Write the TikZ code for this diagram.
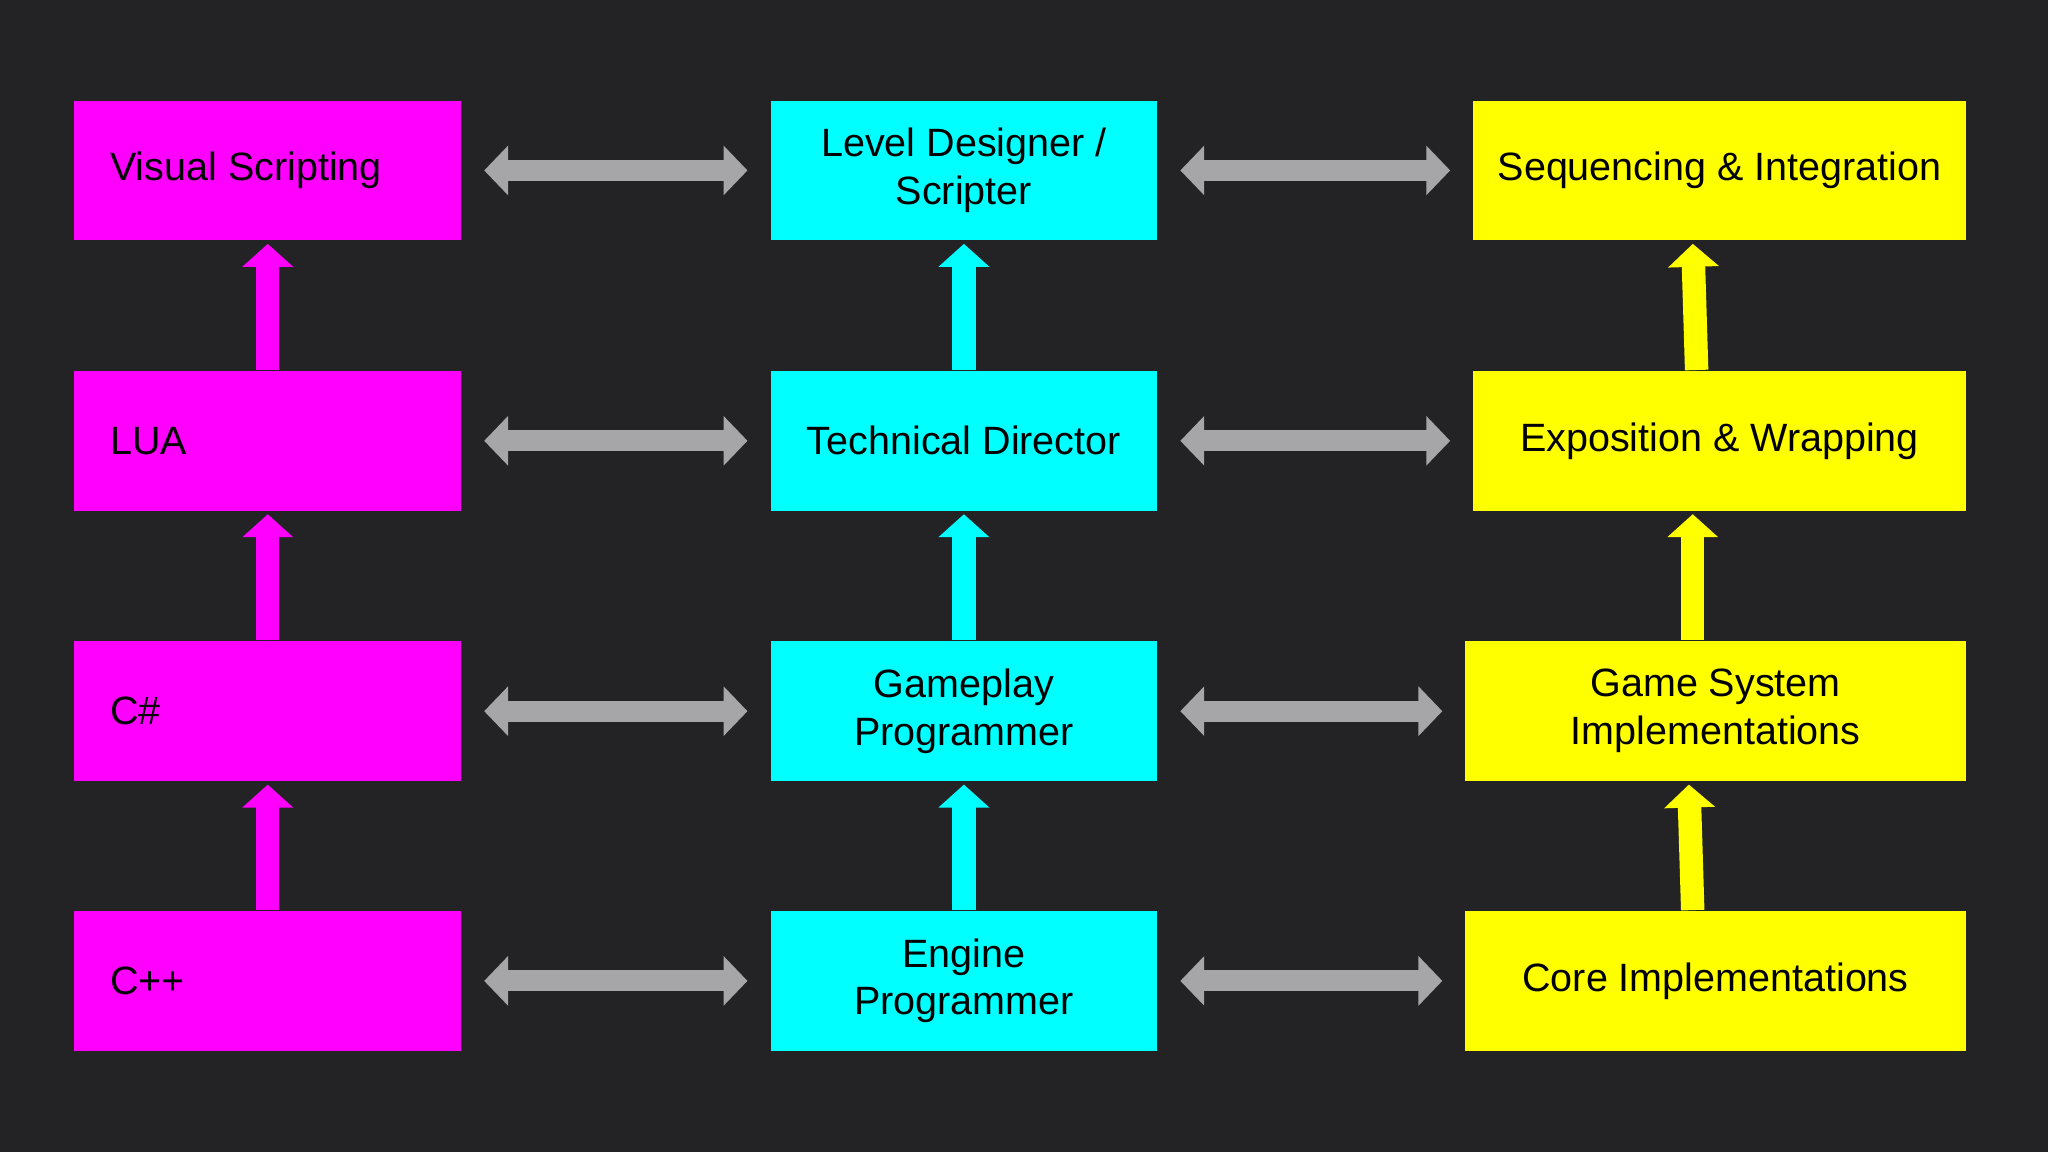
\documentclass[tikz,border=0pt]{standalone}
\usepackage{fontspec}
\setmainfont{Liberation Sans}
\usetikzlibrary{arrows.meta}
\definecolor{bg}{RGB}{35,35,37}
\definecolor{mag}{RGB}{255,0,255}
\definecolor{cya}{RGB}{0,255,255}
\definecolor{yel}{RGB}{255,255,0}
\definecolor{gry}{RGB}{166,166,168}
\begin{document}
\begin{tikzpicture}[x=0.01cm,y=-0.01cm,
  box/.style={draw=none,minimum height=107*0.01cm,inner sep=0pt,font=\fontsize{8.6pt}{10.4pt}\selectfont,align=center,text=black},
  hz/.style={gry,line width=4.6pt,{Triangle[length=5.2pt,width=10.5pt]}-{Triangle[length=5.2pt,width=10.5pt]},shorten <=17*0.01cm,shorten >=17*0.01cm},
  vt/.style={line width=5.1pt,-{Triangle[length=5pt,width=10.8pt]},shorten >=2*0.01cm}]
\fill[bg] (0,0) rectangle (1568,882);
\useasboundingbox (0,0) rectangle (1568,882);
\foreach \n/\y/\t in {1/130.5/Visual Scripting,2/337.5/LUA,3/544.5/C\#,4/751/C++}{
  \node[box,fill=mag,minimum width=296*0.01cm] (m\n) at (205,\y) {};
  \node[anchor=west,font=\fontsize{8.6pt}{10.4pt}\selectfont] at (72,\y) {\t};
}
\node[box,fill=cya,minimum width=296*0.01cm] (c1) at (738,130.5) {Level Designer /\\Scripter};
\node[box,fill=cya,minimum width=296*0.01cm] (c2) at (738,337.5) {Technical Director};
\node[box,fill=cya,minimum width=296*0.01cm] (c3) at (738,544.5) {Gameplay\\Programmer};
\node[box,fill=cya,minimum width=296*0.01cm] (c4) at (738,751) {Engine\\Programmer};
\node[box,fill=yel,minimum width=377*0.01cm] (y1) at (1316.5,130.5) {Sequencing \& Integration};
\node[box,fill=yel,minimum width=377*0.01cm] (y2) at (1316.5,337.5) {Exposition \& Wrapping};
\node[box,fill=yel,minimum width=383*0.01cm] (y3) at (1313.5,544.5) {Game System\\Implementations};
\node[box,fill=yel,minimum width=383*0.01cm] (y4) at (1313.5,751) {Core Implementations};
\foreach \i in {1,2,3,4}{
  \draw[hz] (m\i.east) -- (c\i.west);
  \draw[hz] (c\i.east) -- (y\i.west);
}
\foreach \a/\b in {2/1,3/2,4/3}{
  \draw[vt,mag] (m\a.north) -- (m\b.south);
  \draw[vt,cya] (c\a.north) -- (c\b.south);
  \draw[vt,yel] ([xshift=-17.5*0.01cm]y\a.north) -- ([xshift=-20.5*0.01cm]y\b.south) ;
}
\end{tikzpicture}
\end{document}
